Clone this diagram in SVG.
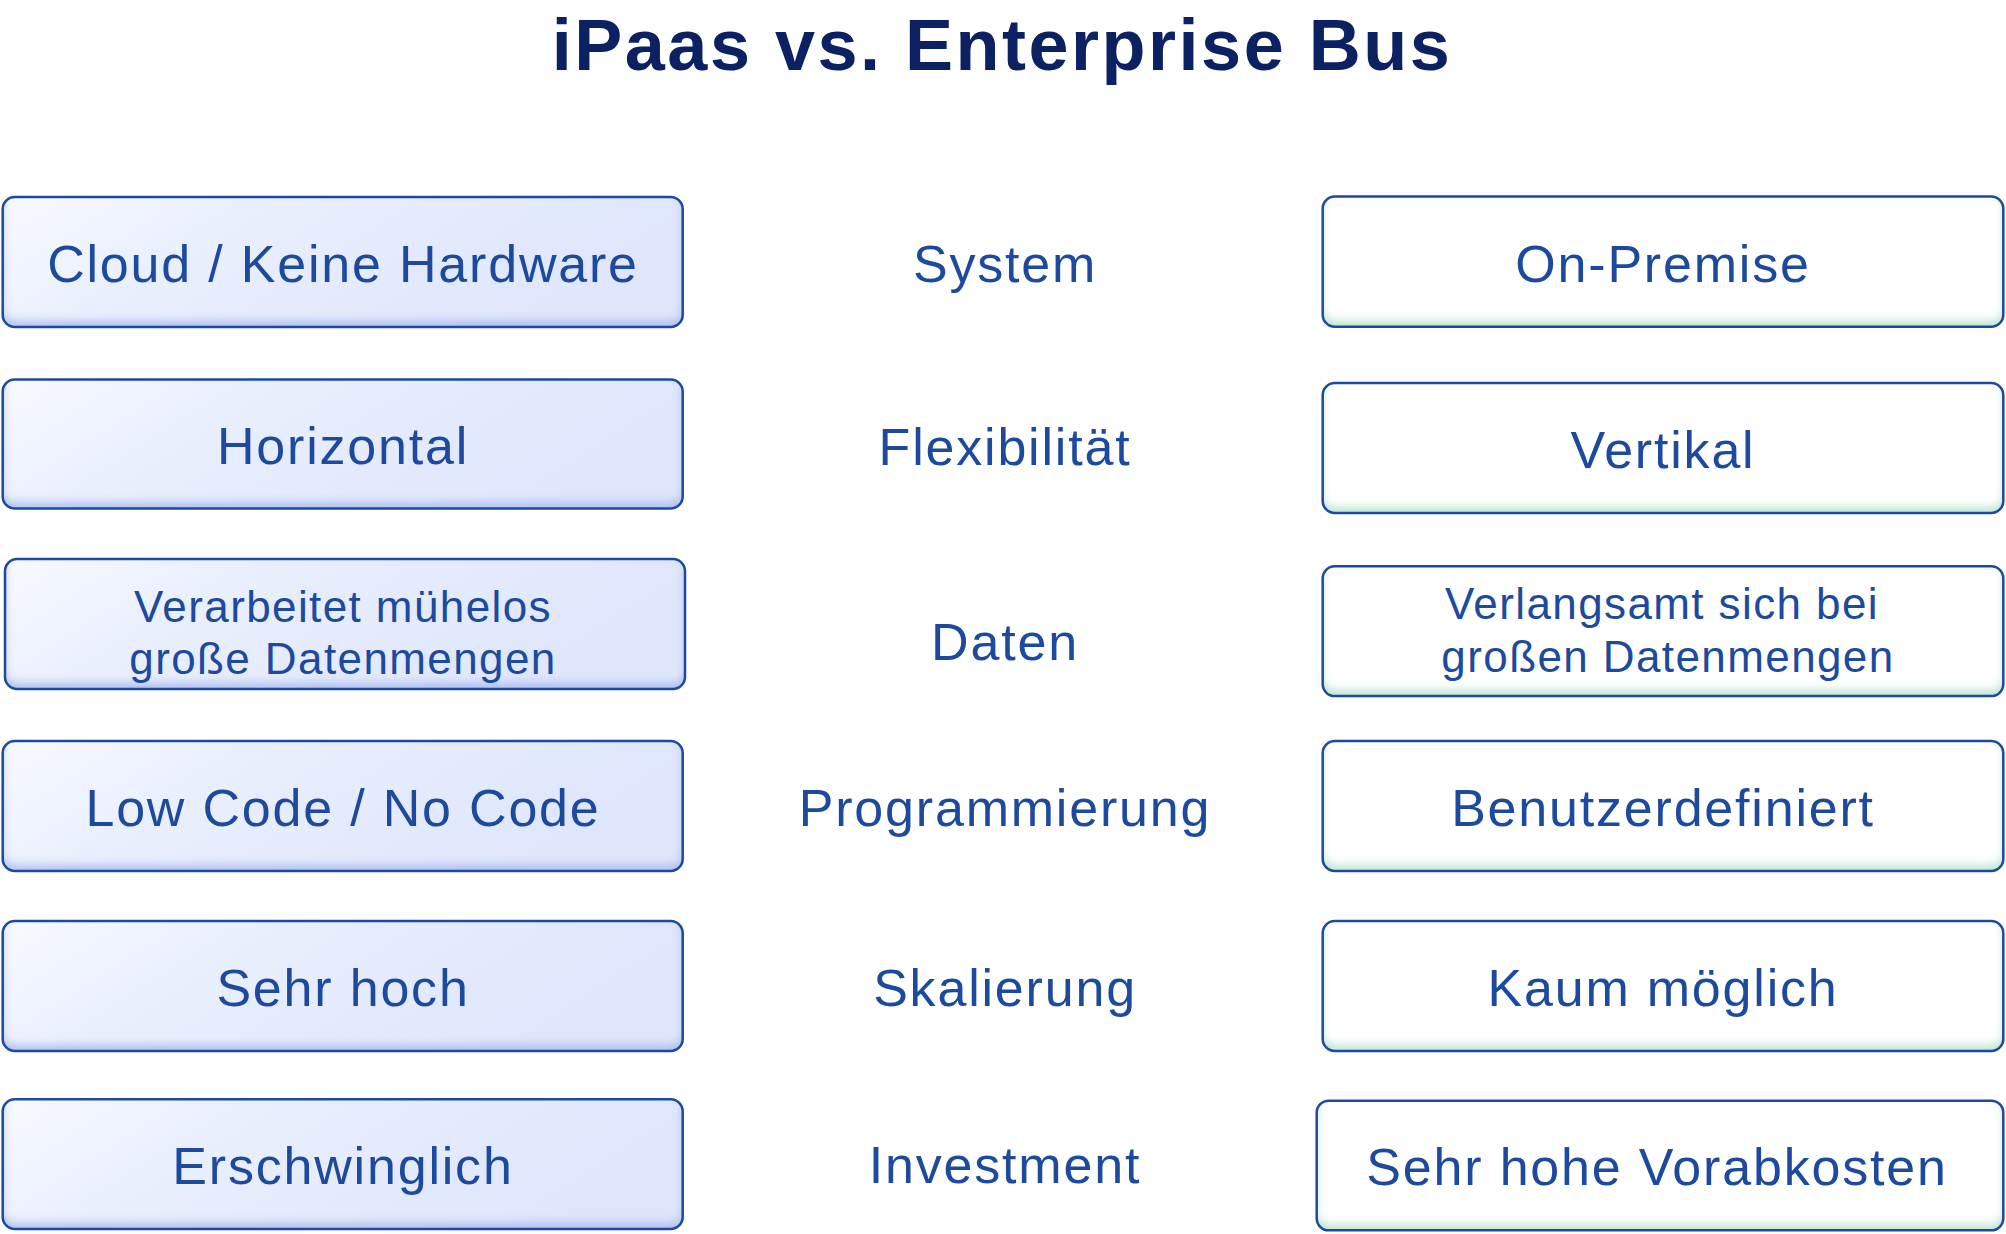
<svg xmlns="http://www.w3.org/2000/svg" width="2006" height="1234" viewBox="0 0 2006 1234">
<defs>
<style>
.title{font-family:"Liberation Sans",Arial,sans-serif;font-weight:bold;font-size:72px;fill:#0b2161;letter-spacing:2.5px;text-anchor:middle}
.t{font-family:"Liberation Sans",Arial,sans-serif;font-size:52px;fill:#1b4a9f;letter-spacing:1.8px;text-anchor:middle}
.t2{font-family:"Liberation Sans",Arial,sans-serif;font-size:44px;fill:#1b4a9f;letter-spacing:1.4px;text-anchor:middle}
.lf{fill:url(#gL);filter:url(#inL)}
.rf{fill:#ffffff;filter:url(#inR)}
.st{fill:none;stroke:#1c4aa0;stroke-width:2.5}
</style>
<linearGradient id="gL" x1="0" y1="0" x2="1" y2="0.3">
<stop offset="0" stop-color="#f8faff"/>
<stop offset="0.35" stop-color="#eaeffd"/>
<stop offset="1" stop-color="#dfe6fc"/>
</linearGradient>
<filter id="inL" x="-5%" y="-10%" width="110%" height="120%">
<feFlood flood-color="#a9bdee"/>
<feComposite in2="SourceAlpha" operator="out"/>
<feGaussianBlur stdDeviation="5"/>
<feOffset dy="-6"/>
<feComposite in2="SourceAlpha" operator="in" result="sh"/>
<feMerge><feMergeNode in="SourceGraphic"/><feMergeNode in="sh"/></feMerge>
</filter>
<filter id="inR" x="-5%" y="-10%" width="110%" height="120%">
<feFlood flood-color="#b6e4cc"/>
<feComposite in2="SourceAlpha" operator="out"/>
<feGaussianBlur stdDeviation="5"/>
<feOffset dy="-6"/>
<feComposite in2="SourceAlpha" operator="in" result="sh"/>
<feMerge><feMergeNode in="SourceGraphic"/><feMergeNode in="sh"/></feMerge>
</filter>
</defs>
<rect width="2006" height="1234" fill="#ffffff"/>
<text id="title" class="title" x="1002" y="70">iPaas vs. Enterprise Bus</text>

<g id="ipaas-system">
<rect class="lf" x="2.7" y="197" width="680" height="130" rx="12"/>
<rect class="st" x="2.7" y="197" width="680" height="130" rx="12"/>
<text class="t" x="343" y="282">Cloud / Keine Hardware</text>
</g>
<g id="ipaas-flex">
<rect class="lf" x="2.7" y="379.5" width="680" height="129" rx="12"/>
<rect class="st" x="2.7" y="379.5" width="680" height="129" rx="12"/>
<text class="t" x="343" y="464">Horizontal</text>
</g>
<g id="ipaas-daten">
<rect class="lf" x="5" y="559" width="680" height="130" rx="12"/>
<rect class="st" x="5" y="559" width="680" height="130" rx="12"/>
<text class="t2" x="343" y="622">Verarbeitet mühelos</text>
<text class="t2" x="343" y="674">große Datenmengen</text>
</g>
<g id="ipaas-prog">
<rect class="lf" x="2.7" y="741" width="680" height="130" rx="12"/>
<rect class="st" x="2.7" y="741" width="680" height="130" rx="12"/>
<text class="t" x="343" y="826">Low Code / No Code</text>
</g>
<g id="ipaas-skal">
<rect class="lf" x="2.7" y="921" width="680" height="130" rx="12"/>
<rect class="st" x="2.7" y="921" width="680" height="130" rx="12"/>
<text class="t" x="343" y="1006">Sehr hoch</text>
</g>
<g id="ipaas-inv">
<rect class="lf" x="2.7" y="1099.3" width="680" height="129.7" rx="12"/>
<rect class="st" x="2.7" y="1099.3" width="680" height="129.7" rx="12"/>
<text class="t" x="343" y="1184">Erschwinglich</text>
</g>

<g id="label-system"><text class="t" x="1005" y="282">System</text></g>
<g id="label-flex"><text class="t" x="1005" y="465">Flexibilität</text></g>
<g id="label-daten"><text class="t" x="1005" y="660">Daten</text></g>
<g id="label-prog"><text class="t" x="1005" y="826">Programmierung</text></g>
<g id="label-skal"><text class="t" x="1005" y="1005.7">Skalierung</text></g>
<g id="label-inv"><text class="t" x="1005" y="1183.3">Investment</text></g>

<g id="esb-system">
<rect class="rf" x="1322.7" y="196.5" width="680.6" height="130.2" rx="12"/>
<rect class="st" x="1322.7" y="196.5" width="680.6" height="130.2" rx="12"/>
<text class="t" x="1663" y="282">On-Premise</text>
</g>
<g id="esb-flex">
<rect class="rf" x="1322.7" y="383" width="680.6" height="130" rx="12"/>
<rect class="st" x="1322.7" y="383" width="680.6" height="130" rx="12"/>
<text class="t" x="1663" y="468">Vertikal</text>
</g>
<g id="esb-daten">
<rect class="rf" x="1322.7" y="566.3" width="680.6" height="129.8" rx="12"/>
<rect class="st" x="1322.7" y="566.3" width="680.6" height="129.8" rx="12"/>
<text class="t2" x="1662" y="619.4">Verlangsamt sich bei</text>
<text class="t2" x="1668" y="671.8">großen Datenmengen</text>
</g>
<g id="esb-prog">
<rect class="rf" x="1322.7" y="741" width="680.6" height="130" rx="12"/>
<rect class="st" x="1322.7" y="741" width="680.6" height="130" rx="12"/>
<text class="t" x="1663" y="826">Benutzerdefiniert</text>
</g>
<g id="esb-skal">
<rect class="rf" x="1322.7" y="921" width="680.6" height="130" rx="12"/>
<rect class="st" x="1322.7" y="921" width="680.6" height="130" rx="12"/>
<text class="t" x="1663" y="1006">Kaum möglich</text>
</g>
<g id="esb-inv">
<rect class="rf" x="1316.7" y="1100.7" width="686.6" height="129.6" rx="12"/>
<rect class="st" x="1316.7" y="1100.7" width="686.6" height="129.6" rx="12"/>
<text class="t" x="1657" y="1185">Sehr hohe Vorabkosten</text>
</g>
</svg>
